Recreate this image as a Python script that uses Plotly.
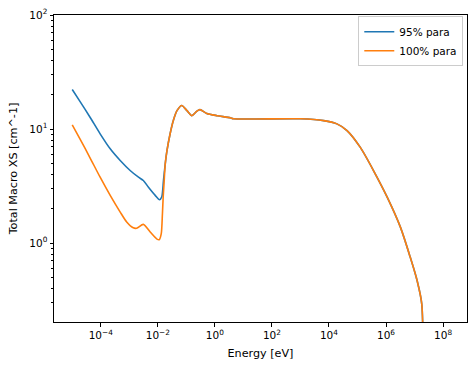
import plotly.graph_objects as go

# Blue series: 95% para
energy_95 = [1e-5, 1.86e-5, 4.2e-5, 9.5e-5, 2.14e-4, 4.8e-4, 1.07e-3, 2.1e-3, 3.1e-3, 4.7e-3,
             8.1e-3, 1.15e-2, 1.38e-2, 1.58e-2, 1.82e-2, 2.1e-2, 2.7e-2, 3.5e-2, 4.7e-2,
             6.9e-2, 0.105, 0.155, 0.23, 0.30, 0.52, 1.2, 3.5, 4.5, 1e3, 6.5e3, 1.9e4,
             4.3e4, 1.26e5, 3.6e5, 1.1e6, 3.2e6, 7.1e6, 1.23e7, 1.8e7, 1.8e7]
xs_95 = [22.2, 17.5, 12.7, 9.08, 6.71, 5.30, 4.33, 3.78, 3.54, 3.09,
         2.62, 2.40, 2.55, 3.55, 4.95, 6.5, 9.1, 11.9, 14.5,
         16.1, 14.5, 13.1, 14.3, 14.8, 13.7, 13.1, 12.55, 12.3, 12.3, 11.85, 11.1,
         9.7, 6.9, 4.35, 2.53, 1.38, 0.75, 0.47, 0.29, 1e-3]

# Orange series: 100% para
energy_100 = [1e-5, 1.86e-5, 4.2e-5, 9.5e-5, 2.14e-4, 4.8e-4, 8.1e-4, 1.38e-3, 1.82e-3, 3.1e-3,
              5.4e-3, 9.1e-3, 1.12e-2, 1.32e-2, 1.45e-2, 1.55e-2, 1.66e-2, 1.82e-2, 2.1e-2,
              2.7e-2, 3.5e-2, 4.7e-2, 6.9e-2, 0.105, 0.155, 0.23, 0.30, 0.52, 1.2, 3.5,
              4.5, 1e3, 6.5e3, 1.9e4, 4.3e4, 1.26e5, 3.6e5, 1.1e6, 3.2e6, 7.1e6, 1.23e7,
              1.8e7, 1.8e7]
xs_100 = [10.9, 8.2, 5.6, 3.78, 2.62, 1.87, 1.53, 1.36, 1.35, 1.46,
          1.25, 1.09, 1.07, 1.21, 1.8, 2.6, 3.4, 4.95, 6.5,
          9.1, 11.9, 14.5, 16.1, 14.5, 13.1, 14.3, 14.8, 13.7, 13.1, 12.55,
          12.3, 12.3, 11.85, 11.1, 9.7, 6.9, 4.35, 2.53, 1.38, 0.75, 0.47,
          0.29, 1e-3]

x_tick_vals = [1e-4, 1e-2, 1e0, 1e2, 1e4, 1e6, 1e8]
x_tick_text = ["10<sup>−4</sup>", "10<sup>−2</sup>", "10<sup>0</sup>", "10<sup>2</sup>",
               "10<sup>4</sup>", "10<sup>6</sup>", "10<sup>8</sup>"]
y_tick_vals = [1, 10, 100]
y_tick_text = ["10<sup>0</sup>", "10<sup>1</sup>", "10<sup>2</sup>"]
y_minor_vals = [m * 10 ** e for e in (-1, 0, 1) for m in range(2, 10)]

fig = go.Figure()
fig.add_trace(go.Scatter(x=energy_95, y=xs_95, mode="lines", name="95% para",
                         line=dict(color="#1f77b4", width=1.6, shape="spline", smoothing=0.7)))
fig.add_trace(go.Scatter(x=energy_100, y=xs_100, mode="lines", name="100% para",
                         line=dict(color="#ff7f0e", width=1.6, shape="spline", smoothing=0.7)))

axis_common = dict(showline=True, linecolor="black", linewidth=1, mirror=True,
                   ticks="outside", ticklen=3.5, tickcolor="black", showgrid=False,
                   zeroline=False, tickfont=dict(size=10.5, color="black"), automargin=False)

fig.update_xaxes(type="log", range=[-5.64, 8.84], tickvals=x_tick_vals, ticktext=x_tick_text,
                 title=dict(text="Energy [eV]", font=dict(size=11.2, color="black"), standoff=9),
                 **axis_common)
fig.update_yaxes(type="log", range=[-0.692, 2.0], tickvals=y_tick_vals, ticktext=y_tick_text,
                 minor=dict(tickvals=y_minor_vals, ticks="outside", ticklen=2, tickcolor="black"),
                 title=dict(text="Total Macro XS [cm^-1]", font=dict(size=11.2, color="black"), standoff=9),
                 **axis_common)

fig.update_layout(
    width=474, height=370,
    margin=dict(l=54, r=7, t=15, b=48),
    plot_bgcolor="white", paper_bgcolor="white",
    font=dict(family="DejaVu Sans", size=10, color="black"),
    showlegend=True,
    legend=dict(x=0.991, y=0.996, xanchor="right", yanchor="top",
                bgcolor="rgba(255,255,255,0.8)", bordercolor="#cccccc", borderwidth=1,
                font=dict(size=10.5), tracegroupgap=0, itemwidth=30),
)

fig.write_html("out.html", config={"displayModeBar": False},
               post_script="document.body.style.margin='0';document.body.style.padding='0';")
